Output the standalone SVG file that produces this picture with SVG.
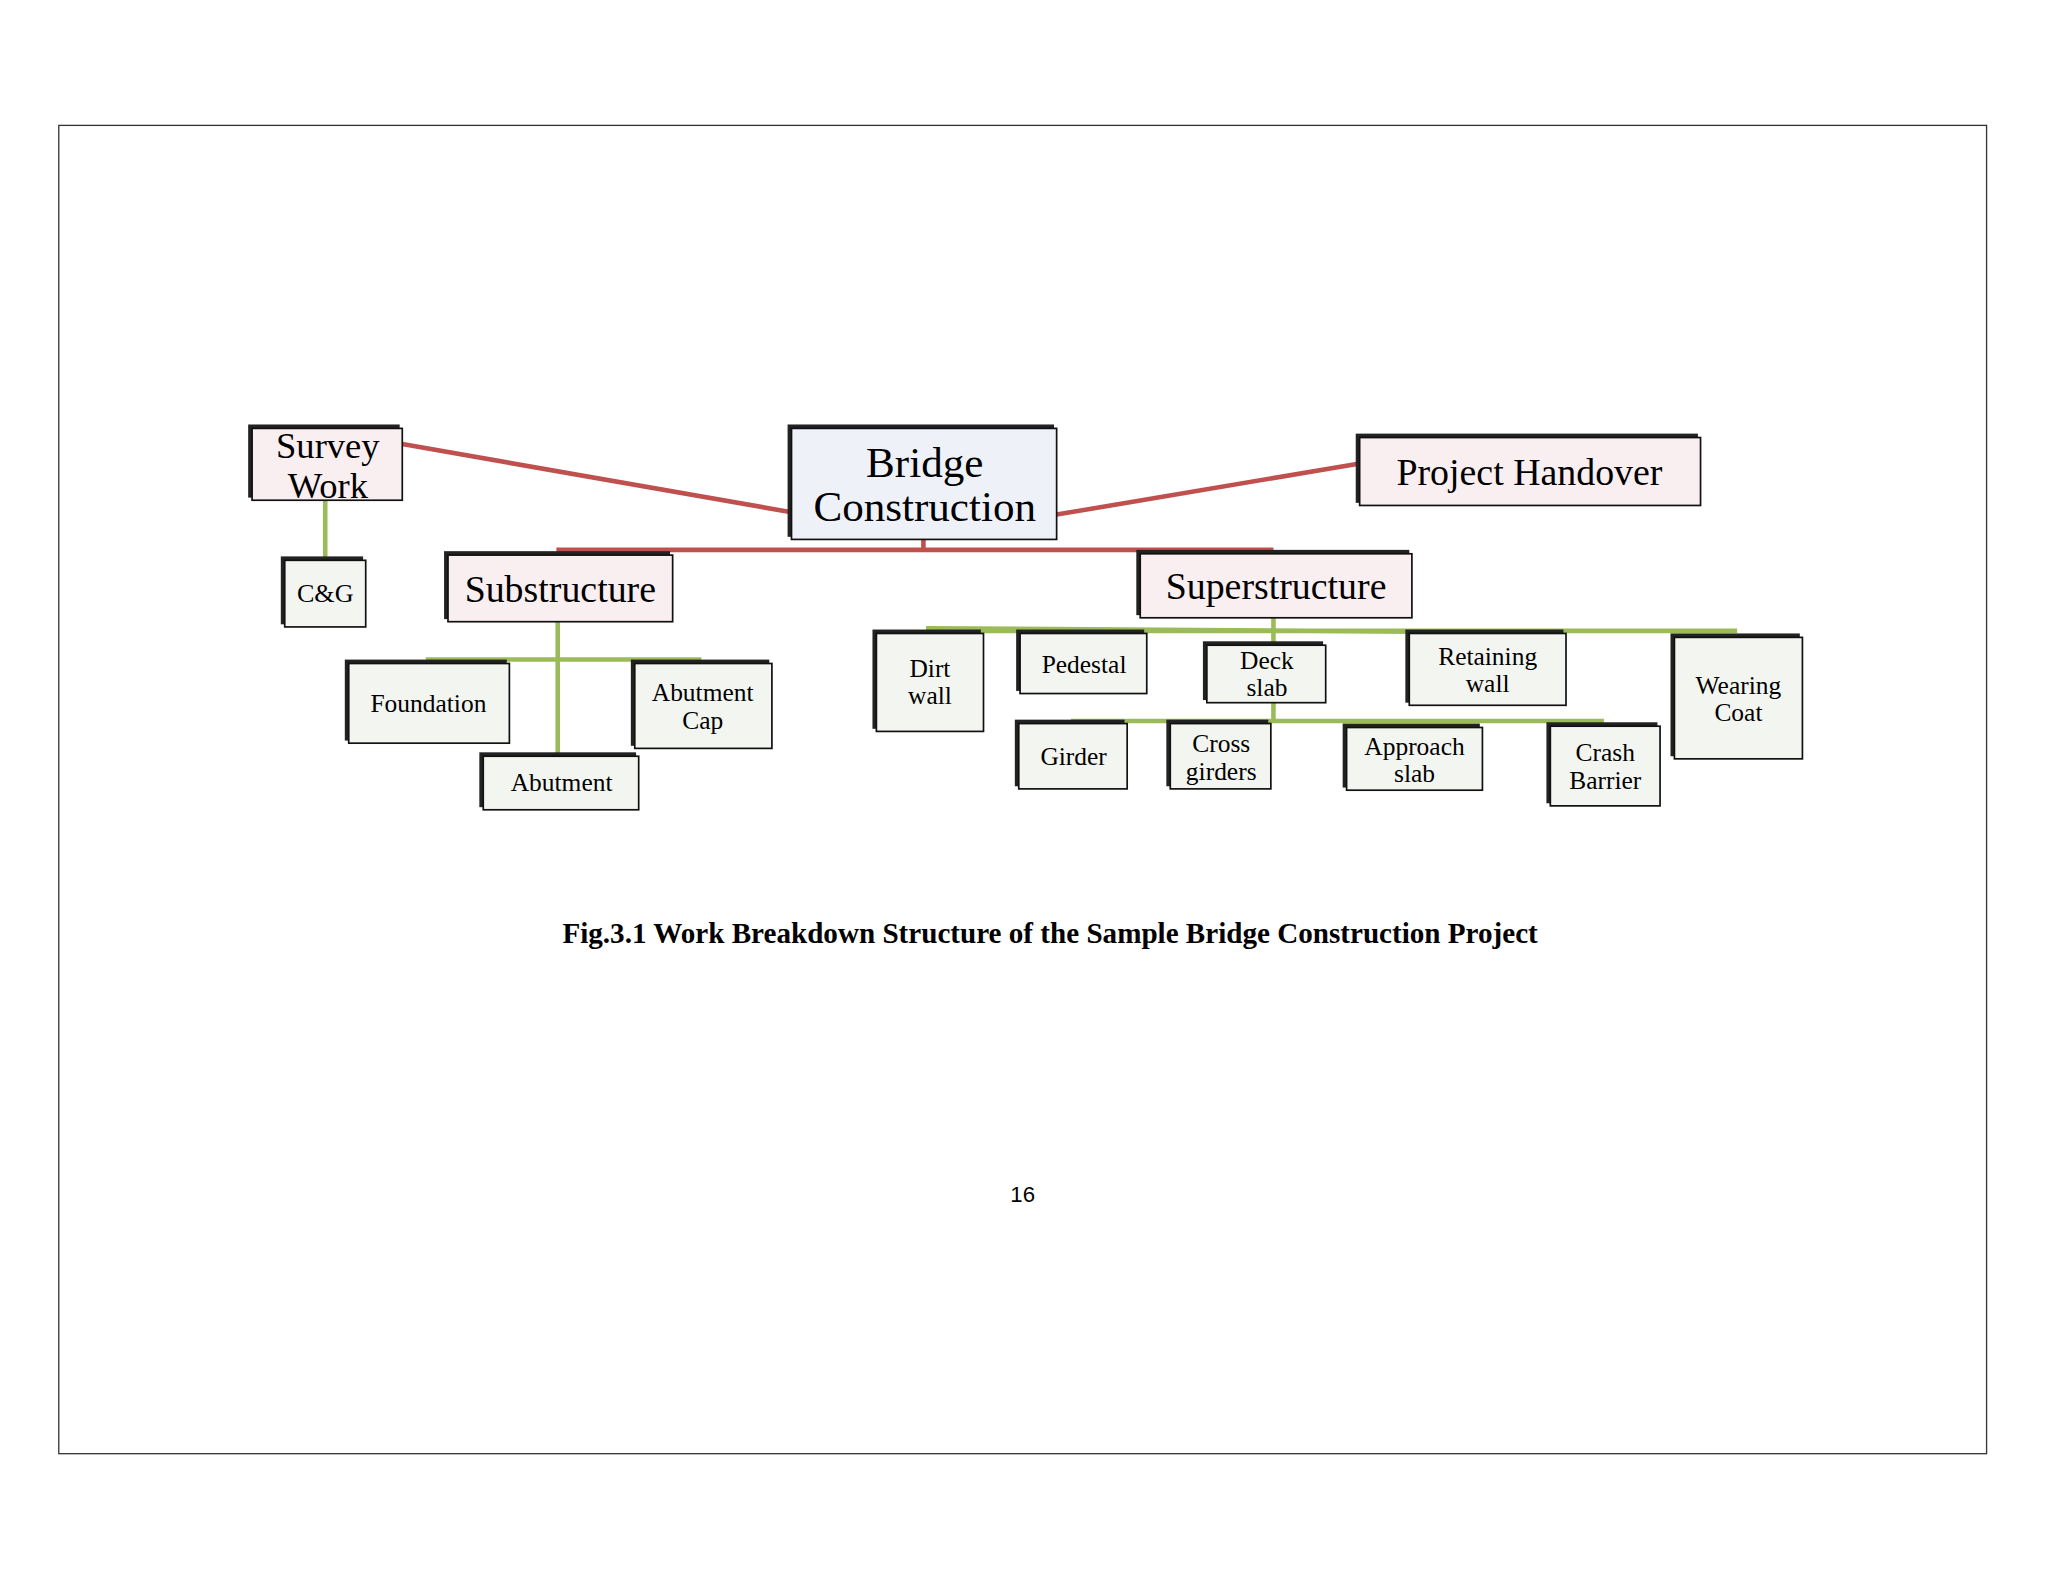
<svg xmlns="http://www.w3.org/2000/svg" width="2048" height="1582" viewBox="0 0 2048 1582">
<style>
.sh{fill:#222}
.b{stroke:#111;stroke-width:1.3}
.p{fill:#f9eef0}
.g{fill:#f3f6f0}
.bl{fill:#eef2f8}
text{font-family:"Liberation Serif",serif;text-anchor:middle;fill:#000}
.red{stroke:#c0504d;stroke-width:3.5;fill:none}
.grn{stroke:#9bbb59;stroke-width:3.5;fill:none}
</style>
<rect width="2048" height="1582" fill="#fff"/>
<g transform="scale(1.3061)">
<rect x="45" y="96" width="1476" height="1017" fill="none" stroke="#333" stroke-width="1"/>
<g id="connectors">
<path class="red" d="M308 340L605 392M809 394L1040 355M707 413V421M426 421H975"/>
<path class="grn" d="M249 383V428M427 476V578M326 505H537M975 473V553M709 483H1330M709 481L1140 484M820 552H1228"/>
</g>
<g id="survey"><rect class="sh" x="190" y="325" width="116" height="56"/><rect class="b p" x="193" y="328" width="115" height="55"/><text x="251" y="351" font-size="28">Survey</text><text x="251" y="381" font-size="28">Work</text></g>
<g id="bridge"><rect class="sh" x="603" y="325" width="204" height="86"/><rect class="b bl" x="606" y="328" width="203" height="85"/><text x="708" y="365" font-size="33">Bridge</text><text x="708" y="399" font-size="33">Construction</text></g>
<g id="handover"><rect class="sh" x="1038" y="332" width="262" height="53"/><rect class="b p" x="1041" y="335" width="261" height="52"/><text x="1171" y="371" font-size="29">Project Handover</text></g>
<g id="cg"><rect class="sh" x="215" y="426" width="63" height="52"/><rect class="b g" x="218" y="429" width="62" height="51"/><text x="249" y="461" font-size="20">C&amp;G</text></g>
<g id="substructure"><rect class="sh" x="340" y="422" width="173" height="52"/><rect class="b p" x="343" y="425" width="172" height="51"/><text x="429" y="461" font-size="29">Substructure</text></g>
<g id="superstructure"><rect class="sh" x="870" y="421" width="209" height="50"/><rect class="b p" x="873" y="424" width="208" height="49"/><text x="977" y="459" font-size="29">Superstructure</text></g>
<g id="foundation"><rect class="sh" x="264" y="505" width="124" height="62"/><rect class="b g" x="267" y="508" width="123" height="61"/><text x="328" y="545" font-size="19.5">Foundation</text></g>
<g id="abutmentcap"><rect class="sh" x="483" y="505" width="106" height="66"/><rect class="b g" x="486" y="508" width="105" height="65"/><text x="538" y="537" font-size="19.5">Abutment</text><text x="538" y="558" font-size="19.5">Cap</text></g>
<g id="abutment"><rect class="sh" x="367" y="576" width="120" height="42"/><rect class="b g" x="370" y="579" width="119" height="41"/><text x="430" y="606" font-size="19.5">Abutment</text></g>
<g id="dirtwall"><rect class="sh" x="668" y="482" width="83" height="76"/><rect class="b g" x="671" y="485" width="82" height="75"/><text x="712" y="518" font-size="19.5">Dirt</text><text x="712" y="539" font-size="19.5">wall</text></g>
<g id="pedestal"><rect class="sh" x="778" y="482" width="98" height="47"/><rect class="b g" x="781" y="485" width="97" height="46"/><text x="830" y="515" font-size="19.5">Pedestal</text></g>
<g id="deckslab"><rect class="sh" x="921" y="491" width="92" height="45"/><rect class="b g" x="924" y="494" width="91" height="44"/><text x="970" y="512" font-size="19.5">Deck</text><text x="970" y="533" font-size="19.5">slab</text></g>
<g id="retaining"><rect class="sh" x="1076" y="482" width="121" height="56"/><rect class="b g" x="1079" y="485" width="120" height="55"/><text x="1139" y="509" font-size="19.5">Retaining</text><text x="1139" y="530" font-size="19.5">wall</text></g>
<g id="wearing"><rect class="sh" x="1279" y="485" width="99" height="94"/><rect class="b g" x="1282" y="488" width="98" height="93"/><text x="1331" y="531" font-size="19.5">Wearing</text><text x="1331" y="552" font-size="19.5">Coat</text></g>
<g id="girder"><rect class="sh" x="777" y="551" width="84" height="51"/><rect class="b g" x="780" y="554" width="83" height="50"/><text x="822" y="586" font-size="19.5">Girder</text></g>
<g id="cross"><rect class="sh" x="893" y="551" width="78" height="51"/><rect class="b g" x="896" y="554" width="77" height="50"/><text x="935" y="576" font-size="19.5">Cross</text><text x="935" y="597" font-size="19.5">girders</text></g>
<g id="approach"><rect class="sh" x="1028" y="554" width="105" height="49"/><rect class="b g" x="1031" y="557" width="104" height="48"/><text x="1083" y="578" font-size="19.5">Approach</text><text x="1083" y="599" font-size="19.5">slab</text></g>
<g id="crash"><rect class="sh" x="1184" y="553" width="85" height="62"/><rect class="b g" x="1187" y="556" width="84" height="61"/><text x="1229" y="583" font-size="19.5">Crash</text><text x="1229" y="604" font-size="19.5">Barrier</text></g>
<text x="804" y="722" font-size="22.3" font-weight="bold">Fig.3.1 Work Breakdown Structure of the Sample Bridge Construction Project</text>
<text x="783" y="920" font-size="17" style="font-family:'Liberation Sans',sans-serif">16</text>
</g>
</svg>
